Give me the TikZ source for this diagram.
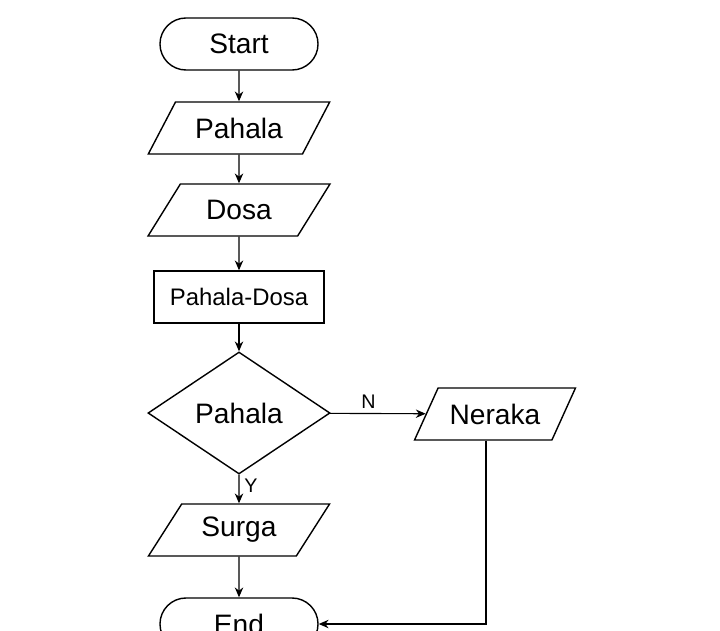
\documentclass[tikz,border=0pt]{standalone}
\usepackage{fontspec}
\setmainfont{Liberation Sans}
\usetikzlibrary{shapes.geometric,arrows.meta}
\begin{document}
\begin{tikzpicture}[x=0.025cm,y=-0.025cm,
  every node/.style={draw,line width=1pt,font=\fontsize{20}{22}\selectfont},
  term/.style={rounded corners=0.65cm,minimum width=3.95cm,minimum height=1.3cm},
  io/.style={trapezium,trapezium left angle=58,trapezium right angle=122,trapezium stretches=true,minimum height=1.3cm,minimum width=4.55cm,inner xsep=0pt},
  proc/.style={minimum width=4.25cm,minimum height=1.3cm,font=\fontsize{17}{20}\selectfont},
  dec/.style={diamond,aspect=1.5,minimum width=4.55cm,minimum height=3.05cm,inner sep=0pt},
  lbl/.style={draw=none,font=\fontsize{14}{16}\selectfont},
  arr/.style={-{Stealth[length=7pt,width=6pt]},line width=0.8pt}]
  \useasboundingbox (0,0) rectangle (720,630);
  % Knoten
  \node[term] (start) at (239,44) {Start};
  \node[io] (pahala) at (239,128) {Pahala};
  \node[io] (dosa) at (239,210) {Dosa};
  \node[proc] (selisih) at (239,297) {Pahala-Dosa};
  \node[dec] (cek) at (239,413) {Pahala};
  \node[io,minimum width=4.05cm] (neraka) at (495,414) {Neraka};
  \node[io] (surga) at (239,530) {Surga};
  \node[term] (end) at (239,624) {End};
  \coordinate (belok) at (486,624);
  % Pfeile
  \draw[arr] (start) -- (pahala);
  \draw[arr] (pahala) -- (dosa);
  \draw[arr] (dosa) -- (selisih);
  \draw[arr] (selisih) -- (cek);
  \draw[arr] (cek) -- node[lbl,above,pos=0.4] {N} (neraka);
  \draw[arr] (cek) -- node[lbl,right,pos=0.4] {Y} (surga);
  \draw[arr] (surga) -- (end);
  \draw[arr] (neraka.south -| belok) -- (belok) -- (end);
\end{tikzpicture}
\end{document}
